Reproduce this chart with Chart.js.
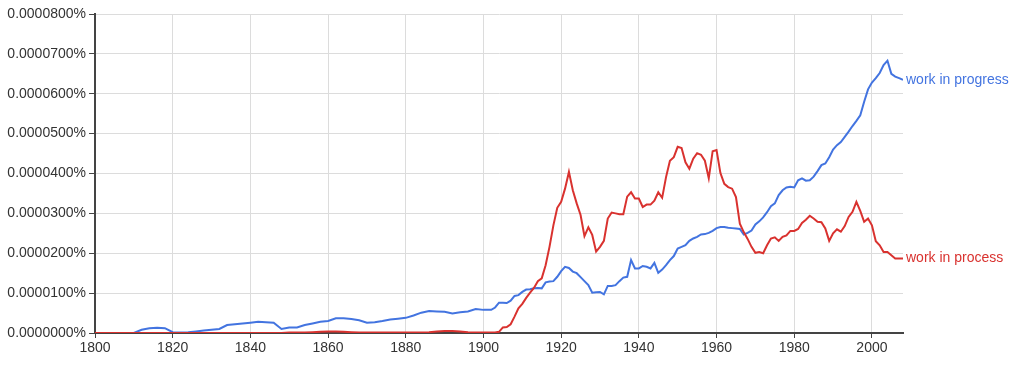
<!DOCTYPE html>
<html>
<head>
<meta charset="utf-8">
<script src="https://cdn.jsdelivr.net/npm/chart.js@4/dist/chart.umd.min.js"></script>
<style>
  html, body { margin: 0; padding: 0; background: #fff; }
  #wrap { width: 1024px; height: 367px; }
</style>
</head>
<body>
<div id="wrap"><canvas id="ngram" width="1024" height="367"></canvas></div>
<script>
// years: every 2 years up to 1898, then yearly
var years = [
  1800, 1802, 1804, 1806, 1808, 1810, 1812, 1814, 1816, 1818,
  1820, 1822, 1824, 1826, 1828, 1830, 1832, 1834, 1836, 1838,
  1840, 1842, 1844, 1846, 1848, 1850, 1852, 1854, 1856, 1858,
  1860, 1862, 1864, 1866, 1868, 1870, 1872, 1874, 1876, 1878,
  1880, 1882, 1884, 1886, 1888, 1890, 1892, 1894, 1896, 1898,
  1900, 1901, 1902, 1903, 1904, 1905, 1906, 1907, 1908, 1909,
  1910, 1911, 1912, 1913, 1914, 1915, 1916, 1917, 1918, 1919,
  1920, 1921, 1922, 1923, 1924, 1925, 1926, 1927, 1928, 1929,
  1930, 1931, 1932, 1933, 1934, 1935, 1936, 1937, 1938, 1939,
  1940, 1941, 1942, 1943, 1944, 1945, 1946, 1947, 1948, 1949,
  1950, 1951, 1952, 1953, 1954, 1955, 1956, 1957, 1958, 1959,
  1960, 1961, 1962, 1963, 1964, 1965, 1966, 1967, 1968, 1969,
  1970, 1971, 1972, 1973, 1974, 1975, 1976, 1977, 1978, 1979,
  1980, 1981, 1982, 1983, 1984, 1985, 1986, 1987, 1988, 1989,
  1990, 1991, 1992, 1993, 1994, 1995, 1996, 1997, 1998, 1999,
  2000, 2001, 2002, 2003, 2004, 2005, 2006, 2007, 2008
];

// values in units of 0.0000001 %
var workInProgress = [
  0, 0, 0, 0, 0, 0, 8, 12, 13, 12,
  2, 1, 2, 4, 6, 8, 10, 20, 22, 24,
  26, 28, 27, 26, 10, 14, 14, 20, 24, 28,
  30, 37, 37, 35, 32, 26, 27, 30, 34, 36,
  38, 44, 51, 55, 54, 53, 49, 52, 54, 60,
  58, 58, 58, 64, 76, 76, 75, 81, 93, 95,
  103, 109, 110, 112, 113, 112, 127, 129, 130, 141,
  155, 166, 163, 154, 150, 140, 130, 120, 101, 102,
  103, 97, 118, 118, 120, 130, 139, 141, 183, 162,
  162, 168, 166, 162, 176, 151, 159, 170, 183, 193,
  212, 216, 220, 231, 237, 241, 247, 248, 251, 256,
  263, 266, 266, 264, 263, 262, 261, 247, 251, 257,
  272, 280, 290, 303, 318, 325, 346, 358, 365, 367,
  365, 383, 388, 382, 383, 392, 406, 421, 425, 441,
  460, 471, 479, 492, 505, 519, 532, 546, 580, 611,
  628, 639, 652, 672, 683, 650, 643, 639, 635
];

var workInProcess = [
  0, 0, 0, 0, 0, 0, 0, 0, 0, 0,
  0, 0, 0, 0, 0, 0, 0, 0, 0, 0,
  0, 0, 0, 0, 0, 1, 1, 1, 2, 3,
  4, 4, 3, 2, 1, 1, 1, 1, 1, 1,
  1, 1, 1, 2, 4, 5, 5, 4, 2, 1,
  1, 1, 1, 1, 3, 14, 15, 22, 41, 62,
  73, 88, 101, 113, 130, 137, 170, 216, 270, 314,
  329, 362, 404, 358, 325, 296, 243, 265, 246, 204,
  216, 231, 287, 302, 300, 298, 298, 342, 353, 337,
  337, 316, 322, 322, 332, 353, 339, 391, 432, 441,
  467, 464, 428, 412, 437, 451, 447, 432, 388, 456,
  459, 401, 374, 366, 362, 341, 274, 253, 236, 216,
  201, 203, 200, 220, 237, 240, 231, 241, 245, 256,
  256, 261, 276, 284, 294, 287, 279, 278, 262, 231,
  250, 260, 254, 268, 291, 304, 329, 306, 279, 287,
  270, 230, 220, 203, 203, 195, 187, 187, 187
];

var seriesNames = ['work in progress', 'work in process'];
var seriesColors = ['#4374e0', '#d9322f'];

var yTicks = [0, 100, 200, 300, 400, 500, 600, 700, 800];
var xTicks = [1800, 1820, 1840, 1860, 1880, 1900, 1920, 1940, 1960, 1980, 2000];

function points(vals) {
  return years.map(function (y, i) { return { x: y, y: vals[i] }; });
}

// draw series names at the end of each line
var endLabels = {
  id: 'endLabels',
  afterDatasetsDraw: function (chart) {
    var ctx = chart.ctx;
    ctx.save();
    ctx.font = '14px "Liberation Sans", Arial, sans-serif';
    ctx.textBaseline = 'middle';
    ctx.textAlign = 'left';
    chart.data.datasets.forEach(function (ds, i) {
      var meta = chart.getDatasetMeta(i);
      var last = meta.data[meta.data.length - 1];
      ctx.fillStyle = ds.borderColor;
      ctx.fillText(ds.label, last.x + 3, last.y);
    });
    ctx.restore();
  }
};

Chart.defaults.font.family = '"Liberation Sans", Arial, sans-serif';
Chart.defaults.font.size = 14;
Chart.defaults.color = '#333';

new Chart(document.getElementById('ngram'), {
  type: 'line',
  data: {
    datasets: [
      { label: seriesNames[0], data: points(workInProgress), borderColor: seriesColors[0], borderWidth: 2, pointRadius: 0, tension: 0, order: 1 },
      { label: seriesNames[1], data: points(workInProcess), borderColor: seriesColors[1], borderWidth: 2, pointRadius: 0, tension: 0, order: 0 }
    ]
  },
  plugins: [endLabels],
  options: {
    responsive: false,
    animation: false,
    layout: { padding: { top: 14, right: 121, left: 0, bottom: 0 } },
    plugins: {
      legend: { display: false },
      tooltip: { enabled: false }
    },
    scales: {
      x: {
        type: 'linear',
        min: 1800,
        max: 2008,
        afterBuildTicks: function (axis) {
          axis.ticks = xTicks.map(function (v) { return { value: v }; });
        },
        afterFit: function (axis) { axis.height = 34; },
        ticks: {
          padding: 2,
          maxRotation: 0,
          callback: function (v) { return String(v); }
        },
        grid: { color: '#dcdcdc', lineWidth: 1, tickLength: 5, tickColor: '#444' },
        border: { color: '#444', width: 2 }
      },
      y: {
        min: 0,
        max: 800,
        afterBuildTicks: function (axis) {
          axis.ticks = yTicks.map(function (v) { return { value: v }; });
        },
        afterFit: function (axis) { axis.width = 95; },
        ticks: {
          padding: 3,
          callback: function (v) { return (v * 1e-7).toFixed(7) + '%'; }
        },
        grid: { color: '#dcdcdc', lineWidth: 1, tickLength: 6, tickColor: '#444' },
        border: { color: '#444', width: 2 }
      }
    }
  }
});
</script>
</body>
</html>
